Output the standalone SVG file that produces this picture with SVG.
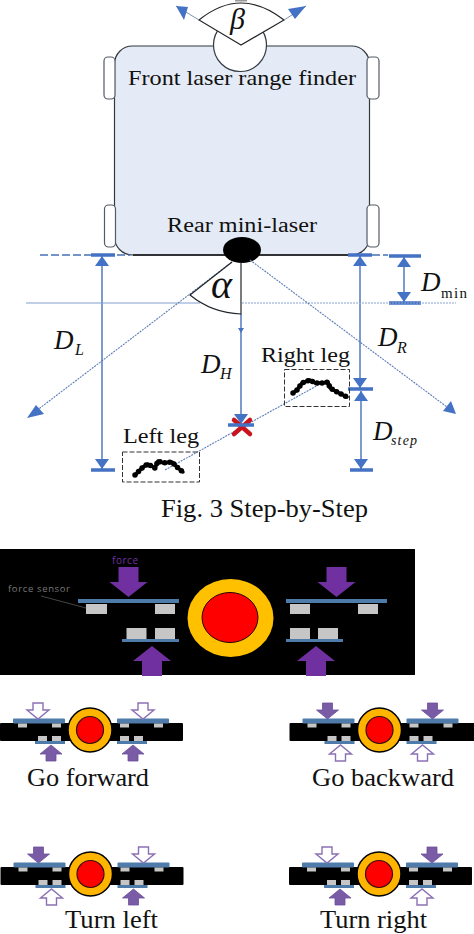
<svg xmlns="http://www.w3.org/2000/svg" xmlns:xlink="http://www.w3.org/1999/xlink" width="474" height="934" viewBox="0 0 474 934">
<style>
text{font-family:"Liberation Serif","Times New Roman",serif;fill:#111}
.it{font-style:italic}
.cap{font-size:26px;fill:#111}
.lbl{font-size:20px}
.sub{font-size:16px;font-style:italic}
.outline{fill:none;stroke:#33393f;stroke-width:1.3}
.wheel{fill:#fff;stroke:#555c66;stroke-width:1.2}
.blue{stroke:#4472b8;stroke-width:1.4;fill:none}
.thick{stroke:#4472c4;stroke-width:3.500;fill:none}
.ray{stroke:#5b7fb8;stroke-width:1.1;stroke-dasharray:2 1;fill:none}
.head{fill:#4472c4}
.leg{fill:none;stroke:#000;stroke-width:3.500;stroke-linecap:round;stroke-linejoin:round}
.dots{fill:none;stroke:#000;stroke-width:5.500;stroke-linecap:round;stroke-dasharray:0 5}
.box{fill:none;stroke:#333;stroke-width:1;stroke-dasharray:5 2}
.plate{fill:#4f7bab}
.sens{fill:#c6c6c6}
.on{fill:#7a5ca6;stroke:#6b4f99;stroke-width:.8}
.off{fill:#fff;stroke:#8a70b4;stroke-width:1.4}
.big{fill:#7030a0}
</style>
<defs>
<path id="dim" d="M0 0L7 10H-7Z"/>
<path id="arrow" d="M-5 0H5V7H11L0 16L-11 7H-5Z"/>
<path id="bigarrow" d="M-10 0H10V15H19L0 30L-19 15H-10Z"/>
<g id="panel">
<rect x="-90" y="-7" width="183" height="18" rx="1" fill="#000"/>
<rect class="plate" x="-77" y="-11.500" width="52" height="5" rx="1"/>
<rect class="plate" x="27" y="-11.500" width="52" height="5" rx="1"/>
<rect class="plate" x="-55" y="11" width="30" height="3"/>
<rect class="plate" x="27" y="11" width="30" height="3"/>
<rect class="sens" x="-72" y="-6.500" width="9" height="4"/>
<rect class="sens" x="-38" y="-6.500" width="9" height="4"/>
<rect class="sens" x="30" y="-6.500" width="9" height="4"/>
<rect class="sens" x="64" y="-6.500" width="9" height="4"/>
<rect class="sens" x="-52" y="6" width="9" height="5"/>
<rect class="sens" x="-38" y="6" width="9" height="5"/>
<rect class="sens" x="30" y="6" width="9" height="5"/>
<rect class="sens" x="44" y="6" width="9" height="5"/>
<circle r="22" fill="#ffb400" stroke="#000" stroke-width="1.5"/>
<circle r="13.500" fill="#ff0000" stroke="#3a1010" stroke-width="1.2"/>
</g>
</defs>

<rect width="474" height="934" fill="#fff"/>

<g id="robot">
<rect x="114.500" y="46" width="255" height="209" rx="18" fill="#e4ebf6" stroke="#33393f" stroke-width="1.2"/>
<path d="M133 255H348" stroke="#111" stroke-width="1.6"/>
<rect class="wheel" x="104" y="57" width="11" height="42" rx="4"/>
<rect class="wheel" x="104.500" y="205" width="11" height="42" rx="4"/>
<rect class="wheel" x="367" y="57" width="12" height="42" rx="4"/>
<rect class="wheel" x="367" y="205" width="12" height="42" rx="4"/>
</g>

<g id="front-laser">
<circle cx="240" cy="45" r="26.500" fill="#fff" stroke="#33393f" stroke-width="1.2"/>
<path d="M241 45L199 20Q241 -14 284 20Z" fill="#fff" stroke="#22262a" stroke-width="1.2"/>
<rect x="235" y="0" width="12" height="1.500" fill="#999"/>
<text x="230" y="29" font-size="30" class="it">β</text>
<text x="128" y="85" font-size="21" textLength="228" lengthAdjust="spacingAndGlyphs">Front laser range finder</text>
</g>

<g id="rear-laser">
<text x="167" y="232" font-size="20" textLength="150" lengthAdjust="spacingAndGlyphs">Rear mini-laser</text>
<ellipse cx="242" cy="250" rx="19" ry="13" fill="#000"/>
</g>

<g id="connectors">
<path class="blue" stroke-dasharray="8 3" d="M40 255H130"/>
<path class="blue" stroke-dasharray="8 3" d="M350 255H388"/>
<path class="thick" d="M91 255H115M348 255H372M389 256H421M389 303H421M91 470H115M350 470H373M348 389H373"/>
<path class="blue" d="M102 255V470M360 255V389M361 391V470M404 256V303M241 314V415"/>
<path d="M26 303H200" stroke="#7f9fd0" stroke-width="1.2" fill="none"/>
<path d="M242 303H456" stroke="#8aa6d4" stroke-width="1.2" stroke-dasharray="2 1" fill="none"/>
<path class="ray" d="M232 262L36 411"/>
<path class="ray" d="M250 260L447 407"/>
<path class="ray" d="M165 470L320 384"/>
<path d="M199 20L176 6M284 20L306 6" stroke="#7f93ad" stroke-width="1" fill="none"/>
<path class="head" d="M176 6L188 7L184 20ZM306 6L288 9L295 19ZM27 418L36 405L44 414ZM456 414L443 411L451 401Z"/>
<path class="head" d="M241 333L238 328H244Z"/>
<use class="head" xlink:href="#dim" href="#dim" x="102" y="256"/>
<use class="head" xlink:href="#dim" href="#dim" x="360" y="256"/>
<use class="head" xlink:href="#dim" href="#dim" x="404" y="257"/>
<use class="head" xlink:href="#dim" href="#dim" x="361" y="391"/>
<use class="head" xlink:href="#dim" href="#dim" transform="matrix(1 0 0 -1 404 302)"/>
<use class="head" xlink:href="#dim" href="#dim" transform="matrix(1 0 0 -1 102 469)"/>
<use class="head" xlink:href="#dim" href="#dim" transform="matrix(1 0 0 -1 361 469)"/>
<use class="head" xlink:href="#dim" href="#dim" transform="matrix(1 0 0 -1 360 388)"/>
<use class="head" xlink:href="#dim" href="#dim" transform="matrix(1 0 0 -1 241 424)"/>
</g>

<g id="alpha-sector">
<path d="M232 262L190 295Q212 313 241 314V262" fill="none" stroke="#22262a" stroke-width="1.2"/>
<text x="211" y="298" font-size="40" class="it">α</text>
</g>

<g id="target">
<path d="M234 420L250 434M250 420L234 434" stroke="#c8141e" stroke-width="4.500" fill="none" stroke-linecap="round"/>
<path class="thick" d="M228 425H254"/>
</g>

<g id="left-leg">
<text x="123" y="443" class="lbl" textLength="76" lengthAdjust="spacingAndGlyphs">Left leg</text>
<rect class="box" x="122.500" y="452" width="77" height="30"/>
<polyline class="leg" points="135,475 143,467 148,464 155,468 158,461 163,463 172,462 177,467 183,472"/>
<polyline class="dots" points="135,475 143,467 148,464 155,468 158,461 163,463 172,462 177,467 183,472"/>
</g>

<g id="right-leg">
<text x="261" y="362" class="lbl" textLength="89" lengthAdjust="spacingAndGlyphs">Right leg</text>
<rect class="box" x="284.500" y="369.500" width="65" height="37"/>
<polyline class="leg" points="293,393 297,390 302,383 310,380 315,383 323,383 328,382 330,388 337,392 347,397"/>
<polyline class="dots" points="293,393 297,390 302,383 310,380 315,383 323,383 328,382 330,388 337,392 347,397"/>
</g>

<g id="labels">
<text x="54" y="349" font-size="27" class="it">D</text><text x="75" y="355" class="sub">L</text>
<text x="201" y="373" font-size="27" class="it">D</text><text x="220" y="379" class="sub">H</text>
<text x="378" y="346" font-size="27" class="it">D</text><text x="397" y="353" class="sub">R</text>
<text x="421" y="291" font-size="27" class="it">D</text><text x="441" y="298" font-size="15" textLength="26">min</text>
<text x="373" y="440" font-size="27" class="it">D</text><text x="391" y="445" font-size="14" class="it" textLength="26">step</text>
<text x="161" y="517" class="cap" textLength="207" lengthAdjust="spacingAndGlyphs">Fig. 3 Step-by-Step</text>
</g>

<g id="force-panel">
<rect x="0" y="549" width="415" height="126" fill="#000"/>
<rect class="plate" x="78" y="599" width="101" height="4"/>
<rect class="plate" x="286" y="599" width="101" height="4"/>
<rect class="plate" x="122" y="639" width="57" height="3"/>
<rect class="plate" x="286" y="639" width="57" height="3"/>
<rect class="sens" x="86" y="604" width="21" height="10"/>
<rect class="sens" x="155" y="604" width="20" height="10"/>
<rect class="sens" x="290" y="604" width="20" height="10"/>
<rect class="sens" x="358" y="604" width="20" height="10"/>
<rect class="sens" x="126.500" y="628" width="20" height="11"/>
<rect class="sens" x="155" y="628" width="20" height="11"/>
<rect class="sens" x="290" y="628" width="20" height="11"/>
<rect class="sens" x="318" y="628" width="20" height="11"/>
<use class="big" xlink:href="#bigarrow" href="#bigarrow" x="128.500" y="567"/>
<use class="big" xlink:href="#bigarrow" href="#bigarrow" x="336.500" y="567"/>
<use class="big" xlink:href="#bigarrow" href="#bigarrow" transform="matrix(1 0 0 -1 152 676)"/>
<use class="big" xlink:href="#bigarrow" href="#bigarrow" transform="matrix(1 0 0 -1 316 676)"/>
<ellipse cx="230.500" cy="618" rx="43" ry="39" fill="#ffc000"/>
<ellipse cx="230" cy="617.500" rx="28" ry="25" fill="#ff0000" stroke="#200" stroke-width="1"/>
<path d="M41 596L86 608" stroke="#555" stroke-width=".8"/>
<text x="112" y="564" font-size="10" textLength="26" style="font-family:'Open Sans','Liberation Sans',sans-serif;fill:#7030a0">force</text>
<text x="8" y="592" font-size="9.500" textLength="62" style="font-family:'Open Sans','Liberation Sans',sans-serif;fill:#777">force sensor</text>
</g>

<g id="go-forward" transform="translate(90 730)">
<use xlink:href="#panel" href="#panel"/>
<use class="off" xlink:href="#arrow" href="#arrow" x="-52" y="-27"/>
<use class="off" xlink:href="#arrow" href="#arrow" x="53" y="-27"/>
<use class="on" xlink:href="#arrow" href="#arrow" transform="matrix(1 0 0 -1 -39 31)"/>
<use class="on" xlink:href="#arrow" href="#arrow" transform="matrix(1 0 0 -1 43 31)"/>
<text x="-63" y="56" class="cap" textLength="122" lengthAdjust="spacingAndGlyphs">Go forward</text>
</g>
<g id="go-backward" transform="translate(379.500 730)">
<use xlink:href="#panel" href="#panel"/>
<rect x="90" y="-7" width="5" height="18" fill="#000"/>
<use class="on" xlink:href="#arrow" href="#arrow" x="-52" y="-27"/>
<use class="on" xlink:href="#arrow" href="#arrow" x="53" y="-27"/>
<use class="off" xlink:href="#arrow" href="#arrow" transform="matrix(1 0 0 -1 -39 31)"/>
<use class="off" xlink:href="#arrow" href="#arrow" transform="matrix(1 0 0 -1 43 31)"/>
<text x="-67.500" y="56" class="cap" textLength="142" lengthAdjust="spacingAndGlyphs">Go backward</text>
</g>
<g id="turn-left" transform="translate(90.500 874)">
<use xlink:href="#panel" href="#panel"/>
<use class="on" xlink:href="#arrow" href="#arrow" x="-52" y="-27"/>
<use class="off" xlink:href="#arrow" href="#arrow" x="53" y="-27"/>
<use class="off" xlink:href="#arrow" href="#arrow" transform="matrix(1 0 0 -1 -39 31)"/>
<use class="on" xlink:href="#arrow" href="#arrow" transform="matrix(1 0 0 -1 43 31)"/>
<text x="-25.500" y="54" class="cap" textLength="93" lengthAdjust="spacingAndGlyphs">Turn left</text>
</g>
<g id="turn-right" transform="translate(379 874)">
<use xlink:href="#panel" href="#panel"/>
<use class="off" xlink:href="#arrow" href="#arrow" x="-52" y="-27"/>
<use class="on" xlink:href="#arrow" href="#arrow" x="53" y="-27"/>
<use class="on" xlink:href="#arrow" href="#arrow" transform="matrix(1 0 0 -1 -39 31)"/>
<use class="off" xlink:href="#arrow" href="#arrow" transform="matrix(1 0 0 -1 43 31)"/>
<text x="-59" y="54" class="cap" textLength="107" lengthAdjust="spacingAndGlyphs">Turn right</text>
</g>
</svg>
